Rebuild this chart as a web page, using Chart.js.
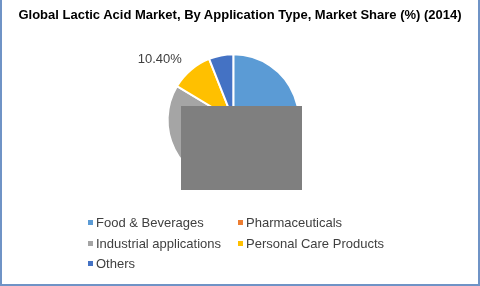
<!DOCTYPE html>
<html>
<head>
<meta charset="utf-8">
<script src="https://cdn.jsdelivr.net/npm/chart.js@4.4.0/dist/chart.umd.min.js"></script>
<style>
  html, body { margin: 0; padding: 0; background: #ffffff; }
  #wrap {
    position: relative; width: 480px; height: 286px; box-sizing: border-box;
    border-left: 2px solid #6f93c6; border-right: 2px solid #6f93c6; border-bottom: 2px solid #6f93c6;
    font-family: "Liberation Sans", Arial, sans-serif; overflow: hidden;
  }
  #chart { position: absolute; left: -2px; top: 0; }
  #title {
    position: absolute; left: -2px; width: 480px; top: 7px; text-align: center;
    font-weight: bold; font-size: 13px; color: #000000;
  }
  .item { position: absolute; font-size: 13px; color: #404040; line-height: 16px; white-space: nowrap; }
  .item span { display: inline-block; width: 5px; height: 5px; margin-right: 3px; vertical-align: 2px; }
</style>
</head>
<body>
<div id="wrap">
  <canvas id="chart" width="480" height="286"></canvas>
  <div id="title">Global Lactic Acid Market, By Application Type, Market Share (%) (2014)</div>
  <div id="legend"></div>
</div>
<script>
const categories = ['Food & Beverages', 'Pharmaceuticals', 'Industrial applications', 'Personal Care Products', 'Others'];
const shares = [38.0, 13.6, 32.0, 10.4, 6.0];
const colors = ['#5b9bd5', '#ed7d31', '#a5a5a5', '#ffc000', '#4472c4'];
const labelShown = [false, false, false, true, false];

// legend, two columns
const legendEl = document.getElementById('legend');
categories.forEach(function(name, i) {
  const el = document.createElement('div');
  el.className = 'item';
  el.style.left = (i % 2 === 0 ? 86 : 236) + 'px';
  el.style.top = (215 + Math.floor(i / 2) * 20.7) + 'px';
  el.innerHTML = '<span style="background:' + colors[i] + '"></span>' + name.replace('&', '&amp;');
  legendEl.appendChild(el);
});

const pieLabels = {
  id: 'pieLabels',
  afterDatasetsDraw(chart) {
    const ctx = chart.ctx;
    const meta = chart.getDatasetMeta(0);
    ctx.save();
    ctx.font = '13px "Liberation Sans", Arial, sans-serif';
    ctx.fillStyle = '#404040';
    ctx.textAlign = 'right';
    ctx.textBaseline = 'middle';
    meta.data.forEach(function(arc, i) {
      if (!labelShown[i]) return;
      const mid = (arc.startAngle + arc.endAngle) / 2;
      const r = arc.outerRadius + 20;
      const x = arc.x + Math.cos(mid) * r + 4;
      const y = arc.y + Math.sin(mid) * r + 5;
      ctx.fillText(shares[i].toFixed(2) + '%', x, y);
    });
    ctx.restore();
  },
  afterDraw(chart) {
    // grey cover block seen over the pie
    const ctx = chart.ctx;
    ctx.save();
    ctx.fillStyle = '#7f7f7f';
    ctx.fillRect(181, 106, 121, 84);
    ctx.restore();
  }
};

const config = {
  type: 'pie',
  data: {
    labels: categories,
    datasets: [{
      data: shares,
      backgroundColor: colors,
      borderColor: '#ffffff',
      borderWidth: 2
    }]
  },
  options: {
    responsive: false,
    animation: false,
    layout: {
      padding: { left: 166.6, right: 180, top: 53.3, bottom: 99.3 }
    },
    plugins: {
      legend: { display: false },
      title: { display: false },
      tooltip: { enabled: false }
    }
  },
  plugins: [pieLabels]
};

const myChart = new Chart(document.getElementById('chart'), config);
</script>
</body>
</html>
